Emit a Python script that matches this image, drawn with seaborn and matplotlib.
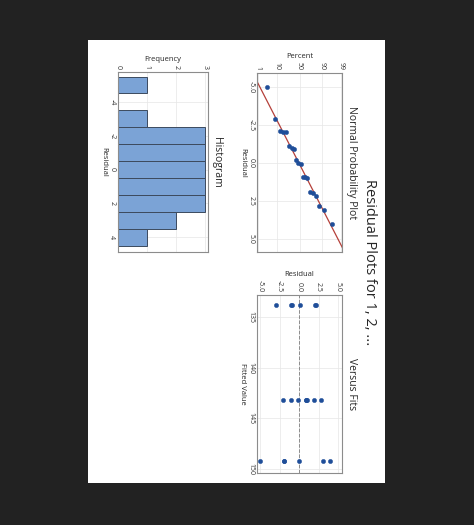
import numpy as np
import matplotlib
matplotlib.use("Agg")
import matplotlib.pyplot as plt
import seaborn as sns

sns.set_theme(style="white")
plt.rcParams["font.family"] = ["Open Sans", "DejaVu Sans"]

# ── Data ───────────────────────────────────────────────────────────────────────
residuals = np.array([-5.0, -2.9, -2.1, -2.0, -2.0, -1.1, -1.0, -0.9, -0.2, 0.0,
                      0.1, 0.9, 0.9, 1.0, 1.9, 2.0, 2.2, 2.8, 3.1, 4.0])
fitted = np.array([149.2, 133.8, 143.2, 149.2, 149.2, 143.2, 133.8, 133.8, 143.2, 149.2,
                   133.8, 143.2, 143.2, 143.2, 143.2, 133.8, 133.8, 143.2, 149.2, 149.2])
pct_ticks = [1, 10, 50, 90, 99]
pct_z = [-2.326, -1.2816, 0.0, 1.2816, 2.326]   # normal quantiles of the ticks

# Minitab plotting positions -> normal scores (approx. inverse normal)
n = len(residuals)
p = (np.arange(1, n + 1) - 0.3) / (n + 0.4)
def norm_ppf(q):
    t = np.sqrt(-2 * np.log(np.minimum(q, 1 - q)))
    z = t - (2.515517 + 0.802853 * t + 0.010328 * t**2) / (1 + 1.432788 * t + 0.189269 * t**2 + 0.001308 * t**3)
    return np.where(q < 0.5, -z, z)
zs = norm_ppf(p)

BLUE = "#1f4e99"
FS = 5

fig = plt.figure(figsize=(4.74, 5.25), dpi=100)
fig.patch.set_facecolor("#222222")
page = fig.add_axes([88 / 474, 1 - 483 / 525, 297 / 474, 443 / 525], zorder=-5)
page.set_facecolor("white")
page.set_xticks([])
page.set_yticks([])
for s in page.spines.values():
    s.set_visible(False)

def style(ax):
    ax.set_facecolor("white")
    for s in ax.spines.values():
        s.set_color("#8c8c8c")
        s.set_linewidth(0.8)
    ax.grid(True, color="#e6e6e6", linewidth=0.5)
    ax.set_axisbelow(True)
    ax.tick_params(labelsize=FS, length=0, pad=2, colors="#333333")

# ── Normal probability plot (rotated) ─────────────────────────────────────────
ax1 = fig.add_axes([257 / 474, 1 - 252 / 525, 85 / 474, 179 / 525])
style(ax1)
mu, sd = residuals.mean(), residuals.std(ddof=1)
zl = np.array([-2.6, 2.6])
ax1.plot(zl, mu + sd * zl, color="#b5403a", linewidth=0.9)
sns.scatterplot(x=zs, y=np.sort(residuals), ax=ax1, color=BLUE, s=10, edgecolor=BLUE, zorder=3)
ax1.set_xlim(-2.4, 2.4)
ax1.set_ylim(5.85, -5.9)
ax1.set_xticks(pct_z)
ax1.set_xticklabels(pct_ticks, rotation=270)
ax1.set_yticks([-5, -2.5, 0, 2.5, 5])
ax1.set_yticklabels(["-5.0", "-2.5", "0.0", "2.5", "5.0"], rotation=270, va="center")
ax1.xaxis.tick_top()
ax1.xaxis.set_label_position("top")
ax1.set_xlabel("Percent", fontsize=FS + 0.5, labelpad=3)
ax1.set_ylabel("Residual", fontsize=FS + 0.5, rotation=270, labelpad=6)
ax1.text(1.11, 0.5, "Normal Probability Plot", transform=ax1.transAxes, rotation=270,
         fontsize=7.5, ha="center", va="center")

# ── Versus fits (rotated) ─────────────────────────────────────────────────────
ax2 = fig.add_axes([257 / 474, 1 - 473 / 525, 85 / 474, 178 / 525])
style(ax2)
ax2.axvline(0, color="#8c8c8c", linestyle="--", linewidth=0.7)
sns.scatterplot(x=residuals, y=fitted, ax=ax2, color=BLUE, s=10, edgecolor=BLUE, zorder=3)
ax2.set_xlim(-5.4, 5.5)
ax2.set_ylim(150.4, 132.8)
ax2.set_xticks([-5, -2.5, 0, 2.5, 5])
ax2.set_xticklabels(["-5.0", "-2.5", "0.0", "2.5", "5.0"], rotation=270)
ax2.set_yticks([135, 140, 145, 150])
ax2.set_yticklabels([135, 140, 145, 150], rotation=270, va="center")
ax2.xaxis.tick_top()
ax2.xaxis.set_label_position("top")
ax2.set_xlabel("Residual", fontsize=FS + 0.5, labelpad=3)
ax2.set_ylabel("Fitted Value", fontsize=FS + 0.5, rotation=270, labelpad=6)
ax2.text(1.11, 0.5, "Versus Fits", transform=ax2.transAxes, rotation=270,
         fontsize=7.5, ha="center", va="center")

# ── Histogram (rotated) ───────────────────────────────────────────────────────
ax3 = fig.add_axes([118 / 474, 1 - 252 / 525, 90 / 474, 180 / 525])
style(ax3)
sns.histplot(y=residuals, binwidth=1, binrange=(-5.5, 4.5), ax=ax3,
             color="#7ba3d6", edgecolor="#3c4a5e", linewidth=0.7, alpha=1)
ax3.set_xlim(0, 3.1)
ax3.set_ylim(4.88, -5.77)
ax3.set_xticks([0, 1, 2, 3])
ax3.set_xticklabels([0, 1, 2, 3], rotation=270)
ax3.set_yticks([-4, -2, 0, 2, 4])
ax3.set_yticklabels([-4, -2, 0, 2, 4], rotation=270, va="center")
ax3.xaxis.tick_top()
ax3.xaxis.set_label_position("top")
ax3.set_xlabel("Frequency", fontsize=FS + 0.5, labelpad=3)
ax3.set_ylabel("Residual", fontsize=FS + 0.5, rotation=270, labelpad=6)
ax3.text(1.1, 0.5, "Histogram", transform=ax3.transAxes, rotation=270,
         fontsize=7.5, ha="center", va="center")

fig.text(370 / 474, 1 - 262 / 525, "Residual Plots for 1, 2, ...", rotation=270,
         fontsize=10.5, ha="center", va="center")

fig.savefig("out.png", dpi=100)
